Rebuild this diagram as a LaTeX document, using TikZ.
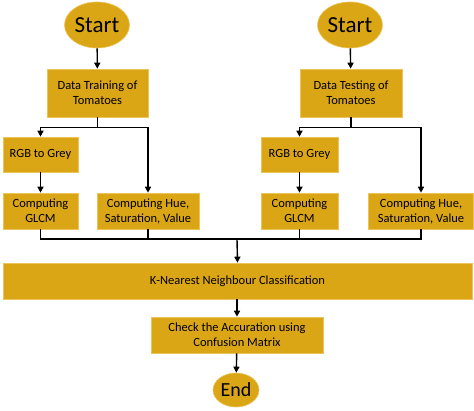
\documentclass[tikz,border=0pt]{standalone}
\usepackage{fontspec}
\setmainfont{Carlito}
\usetikzlibrary{shapes.geometric,arrows.meta}
\definecolor{gold}{RGB}{218,166,22}
\definecolor{goldedge}{RGB}{236,196,90}
\tikzset{
  procbox/.style={draw=goldedge,line width=0.6pt,fill=gold,align=center,inner sep=0pt,font=\fontsize{12.5}{15}\selectfont},
  term/.style={ellipse,fill=gold,draw=goldedge,line width=0.6pt,inner sep=0pt},
  conn/.style={line width=1.4pt,black},
  arr/.style={conn,-{Triangle[length=6pt,width=6pt]}}
}
\begin{document}
\begin{tikzpicture}[x=1pt,y=-1pt]
\useasboundingbox (0,0) rectangle (474,411);
% terminals
\node[term,minimum width=65pt,minimum height=46pt,font=\fontsize{23}{26}\selectfont] (s1) at (97,25) {Start};
\node[term,minimum width=65pt,minimum height=46pt,font=\fontsize{23}{26}\selectfont] (s2) at (350,25) {Start};
% data boxes
\node[procbox,minimum width=101pt,minimum height=48pt] (d1) at (97.5,93) {Data Training of\\Tomatoes};
\node[procbox,minimum width=102pt,minimum height=48pt] (d2) at (351,93) {Data Testing of\\Tomatoes};
% left branch
\node[procbox,minimum width=75pt,minimum height=35pt] (r1) at (40.5,154.5) {RGB to Grey};
\node[procbox,minimum width=75pt,minimum height=36pt] (g1) at (40.5,211) {Computing\\GLCM};
\node[procbox,minimum width=102pt,minimum height=36pt] (h1) at (148,211) {Computing Hue,\\Saturation, Value};
% right branch
\node[procbox,minimum width=77pt,minimum height=35pt] (r2) at (299.5,154.5) {RGB to Grey};
\node[procbox,minimum width=77pt,minimum height=36pt] (g2) at (299.5,211) {Computing\\GLCM};
\node[procbox,minimum width=105pt,minimum height=36pt] (h2) at (421,211) {Computing Hue,\\Saturation, Value};
% bottom
\node[procbox,minimum width=469pt,minimum height=36pt] (knn) at (237.5,281) {K-Nearest Neighbour Classification};
\node[procbox,minimum width=172pt,minimum height=36pt] (chk) at (237,335) {Check the Accuration using\\Confusion Matrix};
\node[term,minimum width=46pt,minimum height=34pt,font=\fontsize{20}{24}\selectfont] (e) at (236,390) {End};
% coordinates
\coordinate (j) at (237,239);
% connectors
\draw[arr] (s1) -- (d1);
\draw[arr] (s2) -- (d2);
\draw[conn] (d1.south) -- ++(0,10) coordinate (t1);
\draw[arr] (t1) -| (r1.north);
\draw[arr] (t1) -| (h1.north);
\draw[conn] (d2.south) -- ++(0,10) coordinate (t2);
\draw[arr] (t2) -| (r2.north);
\draw[arr] (t2) -| (h2.north);
\draw[arr] (r1) -- (g1);
\draw[arr] (r2) -- (g2);
\draw[conn] (g1.south) |- (j);
\draw[conn] (h1.south) |- (j);
\draw[conn] (g2.south) |- (j);
\draw[conn] (h2.south) |- (j);
\draw[arr] (j) -- (knn.north);
\draw[arr] (knn.south -| chk.north) -- (chk.north);
\draw[arr] (chk) -- (e);
\end{tikzpicture}
\end{document}
